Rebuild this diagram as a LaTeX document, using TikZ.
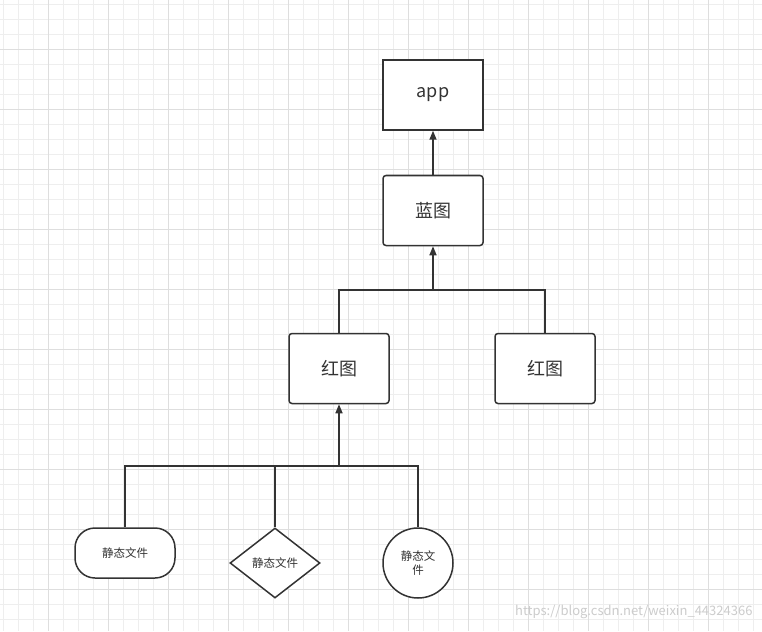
\documentclass[tikz,border=0pt]{standalone}
\usepackage{fontspec}
\setmainfont{Noto Sans CJK SC}
\usetikzlibrary{shapes.geometric,arrows.meta}
\definecolor{gminor}{RGB}{238,238,238}
\definecolor{gmajor}{RGB}{222,222,222}
\definecolor{ink}{RGB}{51,51,51}
\tikzset{
 box/.style={draw=ink,line width=1.5pt,minimum width=100pt,minimum height=70pt,fill=white,font=\fontsize{18}{21}\selectfont,text=ink},
 rbox/.style={box,rounded corners=3pt},
 small/.style={draw=ink,line width=1.5pt,fill=white,font=\fontsize{11.5}{14}\selectfont,text=ink,inner sep=0pt},
 conn/.style={draw=ink,line width=1.5pt},
 arr/.style={conn,-{Triangle[length=9pt,width=7pt]}}
}
\begin{document}
\begin{tikzpicture}[x=1pt,y=-1pt]
\useasboundingbox (0,0) rectangle (762,631);
\fill[white] (0,0) rectangle (762,631);
\foreach \i in {0,...,51} {\draw[gminor,line width=0.8pt] (3.3+15*\i,0) -- (3.3+15*\i,631);}
\foreach \j in {0,...,42} {\draw[gminor,line width=0.8pt] (0,4.3+15*\j) -- (762,4.3+15*\j);}
\foreach \i in {0,...,12} {\draw[gmajor,line width=0.8pt] (48.3+60*\i,0) -- (48.3+60*\i,631);}
\foreach \j in {0,...,10} {\draw[gmajor,line width=0.8pt] (0,49.3+60*\j) -- (762,49.3+60*\j);}
\node[box] (app) at (433,95) {app};
\node[rbox] (blue) at (433,210.5) {蓝图};
\node[rbox] (redL) at (339,368.5) {红图};
\node[rbox] (redR) at (545,368.5) {红图};
\node[small,rounded corners=20pt,minimum width=100pt,minimum height=50pt] (f1) at (125,553) {静态文件};
\node[small,diamond,minimum width=90pt,minimum height=70pt] (f2) at (275,563) {静态文件};
\node[small,circle,minimum size=70pt,align=center] (f3) at (418,563) {静态文\\件};
\coordinate (j1) at (433,290);
\coordinate (j2) at (339,466);
\draw[arr] (blue.north) -- (app.south);
\draw[conn] (redL.north) |- (j1) -| (redR.north);
\draw[arr] (j1) -- (blue.south);
\draw[conn] (f1.north) |- (j2) -| (f3.north);
\draw[conn] (f2.north) -- (f2.north |- j2);
\draw[arr] (j2) -- (redL.south);
\node[text=gray!40,font=\fontsize{13}{15}\selectfont,anchor=east] (wm) at (756,612) {https://blog.csdn.net/weixin\_44324366};
\end{tikzpicture}
\end{document}
